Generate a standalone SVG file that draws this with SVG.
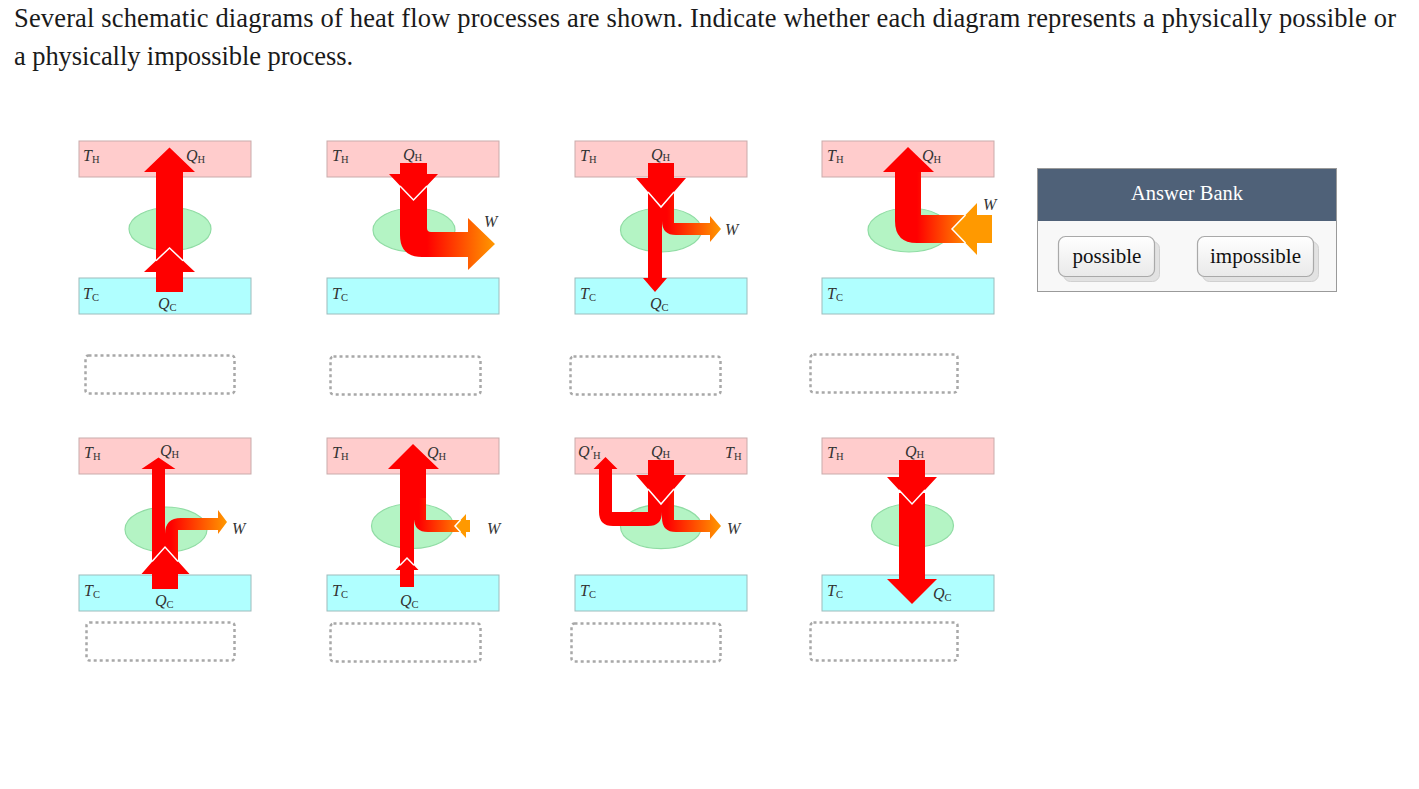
<svg xmlns="http://www.w3.org/2000/svg" width="1419" height="789" viewBox="0 0 1419 789">
<style>
.title{font-family:"Liberation Serif",serif;font-size:26.5px;fill:#1a1a1a}
.hot{fill:#ffcccc;stroke:#c9abab;stroke-width:1}
.cold{fill:#b0ffff;stroke:#9dbcbc;stroke-width:1}
.eng{fill:#b4f4c4;stroke:#90dca4;stroke-width:1.2}
.red{fill:#ff0000}
.org{fill:#ff9900}
.wv{fill:none;stroke:#ffffff;stroke-width:1.5}
.l{font-family:"Liberation Serif",serif;font-style:italic;font-size:16px;fill:#333}
.s{font-style:normal;font-size:10.5px}
.box{fill:#fff;stroke:#a8a8a8;stroke-width:2.5;stroke-dasharray:3 3}
.btn{fill:url(#btnG);stroke:#a9a9a9;stroke-width:1.2}
.sh{fill:#e2e2e2;stroke:#d0d0d0;stroke-width:1}
.bt{font-family:"Liberation Serif",serif;font-size:21px;fill:#111;text-anchor:middle}
</style>
<defs>
<linearGradient id="btnG" x1="0" y1="0" x2="0" y2="1"><stop offset="0" stop-color="#ffffff"/><stop offset="1" stop-color="#e9e9e9"/></linearGradient>
<linearGradient id="g2" gradientUnits="userSpaceOnUse" x1="100" y1="0" x2="168" y2="0"><stop offset="0" stop-color="#ff0000"/><stop offset="1" stop-color="#ff9900"/></linearGradient>
<linearGradient id="g3" gradientUnits="userSpaceOnUse" x1="92" y1="0" x2="146" y2="0"><stop offset="0" stop-color="#ff0000"/><stop offset="1" stop-color="#ff9900"/></linearGradient>
<linearGradient id="g4" gradientUnits="userSpaceOnUse" x1="95" y1="0" x2="150" y2="0"><stop offset="0" stop-color="#ff0000"/><stop offset="1" stop-color="#ff9900"/></linearGradient>
<linearGradient id="g5" gradientUnits="userSpaceOnUse" x1="92" y1="0" x2="148" y2="0"><stop offset="0" stop-color="#ff0000"/><stop offset="1" stop-color="#ff9900"/></linearGradient>
<linearGradient id="g6" gradientUnits="userSpaceOnUse" x1="92" y1="0" x2="140" y2="0"><stop offset="0" stop-color="#ff0000"/><stop offset="1" stop-color="#ff9900"/></linearGradient>
</defs>
<rect width="1419" height="789" fill="#ffffff"/>
<g id="question">
<text class="title" x="14" y="27" textLength="1382" lengthAdjust="spacing">Several schematic diagrams of heat flow processes are shown. Indicate whether each diagram represents a physically possible or</text>
<text class="title" x="14" y="65" textLength="339" lengthAdjust="spacing">a physically impossible process.</text>
</g>

<g id="diagram1" transform="translate(79,141)">
<rect class="hot" x="0" y="0" width="172" height="36"/>
<rect class="cold" x="0" y="137" width="172" height="36"/>
<ellipse class="eng" cx="91" cy="88" rx="41" ry="21.5"/>
<path class="red" d="M77,130 L77,31 L65,31 L90.5,6.5 L116,31 L104,31 L104,130 Z"/>
<path class="red" d="M77,151 L77,131 L65,131 L90.5,107 L116,131 L104,131 L104,151 Z"/>
<polyline class="wv" points="77,119.7 90.5,107 104,119.7"/>
<text class="l" x="4" y="20">T<tspan class="s" dy="2">H</tspan></text>
<text class="l" x="107" y="20">Q<tspan class="s" dy="2">H</tspan></text>
<text class="l" x="4" y="158">T<tspan class="s" dy="2">C</tspan></text>
<text class="l" x="79" y="168">Q<tspan class="s" dy="2">C</tspan></text>
</g>

<g id="diagram2" transform="translate(327,141)">
<rect class="hot" x="0" y="0" width="172" height="36"/>
<rect class="cold" x="0" y="137" width="172" height="36"/>
<ellipse class="eng" cx="87" cy="89" rx="41" ry="22"/>
<path fill="url(#g2)" d="M73,25 L73,94 Q73,116 95,116 L141,116 L141,129 L168,103 L141,77 L141,91 L104,91 Q100,91 100,87 L100,25 Z"/>
<path class="red" d="M73,22 L100,22 L100,33 L111,33 L86.5,59 L62,33 L73,33 Z"/>
<polyline class="wv" points="73,45 86.5,59 100,45"/>
<text class="l" x="5" y="20">T<tspan class="s" dy="2">H</tspan></text>
<text class="l" x="76" y="18.5">Q<tspan class="s" dy="1.5">H</tspan></text>
<text class="l" x="157" y="86">W</text>
<text class="l" x="5" y="158">T<tspan class="s" dy="2">C</tspan></text>
</g>

<g id="diagram3" transform="translate(575,141)">
<rect class="hot" x="0" y="0" width="172" height="36"/>
<rect class="cold" x="0" y="137" width="172" height="36"/>
<ellipse class="eng" cx="86" cy="89" rx="40.5" ry="22"/>
<path class="red" d="M73,45 L87,45 L87,137 L92,137 L80,151 L68,137 L73,137 Z"/>
<path fill="url(#g3)" d="M87,45 L87,80 Q87,94 101,94 L135,94 L135,101 L146,88 L135,75 L135,82 L99,82 L99,45 Z"/>
<path class="red" d="M73,22 L99,22 L99,37 L111,37 L86,66 L61,37 L73,37 Z"/>
<polyline class="wv" points="73,51 86,66 99,51"/>
<text class="l" x="5" y="20">T<tspan class="s" dy="2">H</tspan></text>
<text class="l" x="76" y="18.5">Q<tspan class="s" dy="1.5">H</tspan></text>
<text class="l" x="150" y="94">W</text>
<text class="l" x="5" y="158">T<tspan class="s" dy="2">C</tspan></text>
<text class="l" x="75" y="168">Q<tspan class="s" dy="2">C</tspan></text>
</g>

<g id="diagram4" transform="translate(822,141)">
<rect class="hot" x="0" y="0" width="172" height="36"/>
<rect class="cold" x="0" y="137" width="172" height="36"/>
<ellipse class="eng" cx="87" cy="89" rx="41" ry="22"/>
<path fill="url(#g4)" d="M73,31 L73,80 Q73,102 95,102 L150,102 L150,74 L99,74 L99,31 Z"/>
<path class="red" d="M61,31 L86,6 L112,31 Z"/>
<path class="org" d="M130,88 L155,62 L155,74 L170,74 L170,102 L155,102 L155,114 Z"/>
<polyline class="wv" points="143.5,74 130,88 143.5,102"/>
<text class="l" x="5" y="20">T<tspan class="s" dy="2">H</tspan></text>
<text class="l" x="100" y="20">Q<tspan class="s" dy="2">H</tspan></text>
<text class="l" x="161" y="69">W</text>
<text class="l" x="5" y="158">T<tspan class="s" dy="2">C</tspan></text>
</g>

<g id="diagram5" transform="translate(79,438)">
<rect class="hot" x="0" y="0" width="172" height="36"/>
<rect class="cold" x="0" y="137" width="172" height="36"/>
<ellipse class="eng" cx="87" cy="91.5" rx="41" ry="22.5"/>
<path class="red" d="M73,125 L73,31 L62.5,31 L79.5,19.5 L96.5,31 L86,31 L86,125 Z"/>
<path fill="url(#g5)" d="M86,125 L86,96 Q86,80 102,80 L139,80 L139,72 L148,84 L139,96 L139,92 L99,92 L99,125 Z"/>
<path class="red" d="M73,151 L73,136 L62.5,136 L86,109 L110.5,136 L99,136 L99,151 Z"/>
<polyline class="wv" points="73,123.5 86,109 99,123.5"/>
<text class="l" x="5" y="20">T<tspan class="s" dy="2">H</tspan></text>
<text class="l" x="81" y="18">Q<tspan class="s" dy="1.5">H</tspan></text>
<text class="l" x="153" y="96">W</text>
<text class="l" x="5" y="158">T<tspan class="s" dy="2">C</tspan></text>
<text class="l" x="76" y="168">Q<tspan class="s" dy="2">C</tspan></text>
</g>

<g id="diagram6" transform="translate(327,438)">
<rect class="hot" x="0" y="0" width="172" height="36"/>
<rect class="cold" x="0" y="137" width="172" height="36"/>
<ellipse class="eng" cx="85.5" cy="88" rx="41" ry="22.5"/>
<path class="red" d="M61,31 L86,6 L112,31 L99,31 L99,82 L87,82 L87,128 L73,128 L73,31 Z"/>
<path fill="url(#g6)" d="M87,60 L87,80 Q87,94 101,94 L138,94 L138,82 L99,82 L99,60 Z"/>
<path class="org" d="M128,88 L139,76 L139,82 L143,82 L143,94 L139,94 L139,100 Z"/>
<polyline class="wv" points="133.5,82 128,88 133.5,94"/>
<path class="red" d="M73,149 L73,132 L68.5,132 L80,120 L91.5,132 L87,132 L87,149 Z"/>
<polyline class="wv" points="73,127.3 80,120 87,127.3"/>
<text class="l" x="5" y="20">T<tspan class="s" dy="2">H</tspan></text>
<text class="l" x="100" y="20">Q<tspan class="s" dy="2">H</tspan></text>
<text class="l" x="160" y="96">W</text>
<text class="l" x="5" y="158">T<tspan class="s" dy="2">C</tspan></text>
<text class="l" x="73" y="168">Q<tspan class="s" dy="2">C</tspan></text>
</g>

<g id="diagram7" transform="translate(575,438)">
<rect class="hot" x="0" y="0" width="172" height="36"/>
<rect class="cold" x="0" y="137" width="172" height="36"/>
<ellipse class="eng" cx="86" cy="88.7" rx="40.5" ry="22"/>
<path class="red" d="M87,45 L87,74 Q87,88 73,88 L38,88 Q24,88 24,74 L24,31 L18.5,31 L30.5,19 L42.5,31 L37,31 L37,74 L73,74 L73,45 Z"/>
<path fill="url(#g3)" d="M87,45 L87,80 Q87,94 101,94 L135,94 L135,101 L146,88 L135,75 L135,82 L99,82 L99,45 Z"/>
<path class="red" d="M73,22 L99,22 L99,37 L111,37 L86,66 L61,37 L73,37 Z"/>
<polyline class="wv" points="73,51 86,66 99,51"/>
<text class="l" x="3" y="19">Q′<tspan class="s" dy="2">H</tspan></text>
<text class="l" x="76" y="18.5">Q<tspan class="s" dy="1.5">H</tspan></text>
<text class="l" x="150" y="20">T<tspan class="s" dy="2">H</tspan></text>
<text class="l" x="152" y="96">W</text>
<text class="l" x="5" y="158">T<tspan class="s" dy="2">C</tspan></text>
</g>

<g id="diagram8" transform="translate(822,438)">
<rect class="hot" x="0" y="0" width="172" height="36"/>
<rect class="cold" x="0" y="137" width="172" height="36"/>
<ellipse class="eng" cx="90.5" cy="87.5" rx="41" ry="22"/>
<path class="red" d="M77,55 L103,55 L103,141 L115,141 L90,166 L65,141 L77,141 Z"/>
<path class="red" d="M77,22 L103,22 L103,39 L115,39 L90,66 L65,39 L77,39 Z"/>
<polyline class="wv" points="77,52 90,66 103,52"/>
<text class="l" x="5" y="20">T<tspan class="s" dy="2">H</tspan></text>
<text class="l" x="83" y="18.5">Q<tspan class="s" dy="1.5">H</tspan></text>
<text class="l" x="5" y="158">T<tspan class="s" dy="2">C</tspan></text>
<text class="l" x="111" y="161">Q<tspan class="s" dy="2">C</tspan></text>
</g>

<g id="drop-targets">
<rect id="drop1" class="box" x="85.5" y="355.5" width="149" height="38" rx="3"/>
<rect id="drop2" class="box" x="330.5" y="356.5" width="150" height="38" rx="3"/>
<rect id="drop3" class="box" x="570.5" y="356.5" width="150" height="38" rx="3"/>
<rect id="drop4" class="box" x="810.5" y="354.5" width="147" height="38" rx="3"/>
<rect id="drop5" class="box" x="86.5" y="622.5" width="148" height="38" rx="3"/>
<rect id="drop6" class="box" x="330.5" y="623.5" width="150" height="38" rx="3"/>
<rect id="drop7" class="box" x="571.5" y="623.5" width="149" height="38" rx="3"/>
<rect id="drop8" class="box" x="810.5" y="622.5" width="147" height="38" rx="3"/>
</g>

<g id="answer-bank">
<rect x="1037.5" y="168.5" width="299" height="123" fill="#f8f8f8" stroke="#9a9a9a" stroke-width="1"/>
<rect x="1038" y="169" width="298" height="52" fill="#4f6178"/>
<text x="1187" y="200" font-family="'Liberation Serif',serif" font-size="20.5" fill="#ffffff" text-anchor="middle">Answer Bank</text>
<g id="btn-possible">
<rect class="sh" x="1063.5" y="241.5" width="96" height="40" rx="7"/>
<rect class="btn" x="1058.5" y="236.5" width="96" height="40" rx="7"/>
<text class="bt" x="1107" y="263">possible</text>
</g>
<g id="btn-impossible">
<rect class="sh" x="1202.5" y="241.5" width="116" height="40" rx="7"/>
<rect class="btn" x="1197.5" y="236.5" width="116" height="40" rx="7"/>
<text class="bt" x="1255.5" y="263">impossible</text>
</g>
</g>
</svg>
